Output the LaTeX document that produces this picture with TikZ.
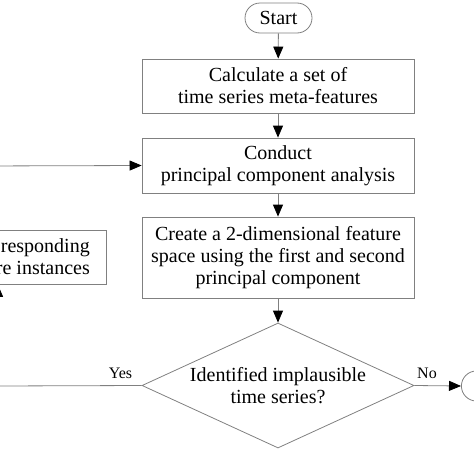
\documentclass[tikz,border=0pt]{standalone}
\usepackage{fontspec}
\setmainfont{Liberation Serif}
\usetikzlibrary{arrows.meta,shapes.geometric}
\definecolor{linegray}{HTML}{808080}
\tikzset{
  base/.style={draw=linegray, line width=0.8pt, font=\fontsize{20}{22}\selectfont, align=center, inner sep=2pt},
  term/.style={base, rectangle, rounded corners=15pt, minimum width=67pt, minimum height=30pt},
  proc/.style={base, rectangle, minimum width=272pt},
  dec/.style={base, diamond, aspect=2.176, minimum width=272pt, minimum height=125pt, inner sep=0pt},
  lbl/.style={font=\fontsize{16}{18}\selectfont, inner sep=0pt},
  txt/.style={font=\fontsize{20}{22}\selectfont, align=right, inner sep=0pt},
  conn/.style={draw=linegray, line width=0.8pt, -{Triangle[length=12pt,width=10pt,black]}},
  plain/.style={draw=linegray, line width=0.8pt}
}
\begin{document}
\begin{tikzpicture}[x=1pt,y=-1pt]
\useasboundingbox (0,0) rectangle (474,474);
\clip (0,0) rectangle (474,474);
\node[term] (start) at (278.5,18) {Start};
\node[proc, minimum height=54pt] (calc) at (278,86) {Calculate a set of\\time series meta-features};
\node[proc, minimum height=55pt] (pca) at (278,165.5) {Conduct\\principal component analysis};
\node[proc, minimum height=81pt] (space) at (278,257.5) {Create a 2-dimensional feature\\space using the first and second\\principal component};
\node[dec] (dec) at (278,385.5) {Identified implausible\\time series?};
\node[base, rectangle, anchor=north east, minimum width=220pt, minimum height=54pt] (remove) at (107,230) {};
\node[txt, anchor=east] (removetxt) at (90,257) {responding\\re instances};
\node[term, anchor=west] (end) at (461,386) {};
\node[lbl, anchor=base] (yes) at (120.5,378) {Yes};
\node[lbl, anchor=base] (no) at (427,378) {No};
\coordinate (yescorner) at (-2,386);
\coordinate (loopstart) at (-20,166);
\draw[conn] (start) -- (calc);
\draw[conn] (calc) -- (pca);
\draw[conn] (pca) -- (space);
\draw[conn] (space) -- (dec);
\draw[conn] (dec.east) -- (end.west);
\draw[conn] (dec.west) -- (yescorner) -- (yescorner |- remove.south);
\draw[conn] (loopstart) -- (pca.west);
\end{tikzpicture}
\end{document}
